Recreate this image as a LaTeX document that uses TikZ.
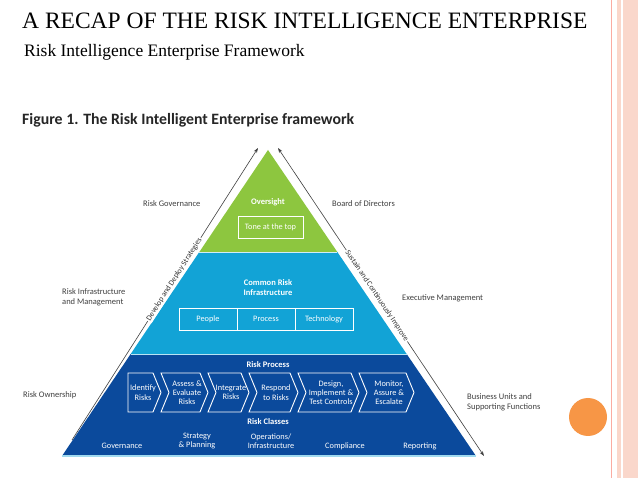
\documentclass[tikz,border=0pt]{standalone}
\usepackage{fontspec}
\setmainfont{Liberation Serif}
\newfontfamily\dg{Carlito}
\usetikzlibrary{calc,arrows.meta}
\definecolor{pgreen}{HTML}{8DC63F}
\definecolor{pblue}{HTML}{12A3D6}
\definecolor{pdark}{HTML}{0B4A9C}
\definecolor{porange}{HTML}{F79646}
\definecolor{ppink}{HTML}{FAD7CB}
\tikzset{
 lbl/.style={font=\dg\fontsize{8.5}{10}\selectfont, text=black!75, align=left, inner sep=0},
 wt/.style={font=\dg\fontsize{8.3}{9.3}\selectfont, text=white, align=center, inner sep=0},
 wb/.style={font=\dg\bfseries\fontsize{8.5}{10}\selectfont, text=white, align=center, inner sep=0},
 wbox/.style={draw=white, line width=0.9pt},
 chev/.style={draw=white, line width=0.9pt, fill=pdark},
 side/.style={draw=black!75, line width=0.6pt},
 slab/.style={font=\dg\fontsize{7.8}{8}\selectfont, text=black!80, fill=white, inner sep=1pt, sloped},
}
\begin{document}
\begin{tikzpicture}[x=1pt,y=-1pt]
\useasboundingbox (0,0) rectangle (638,478);
\fill[white] (0,0) rectangle (638,478);
% right decoration
\fill[ppink] (617,0) rectangle (638,478);
\draw[ppink!80!red, line width=0.6pt] (611,0) -- (611,478);
\draw[white, line width=1.2pt] (622,0) -- (622,478);
\fill[porange] (588,417) circle (19);
% titles
\node[anchor=base west, inner sep=0, font=\fontsize{23.5}{25}\selectfont] (t1) at (22,29) {A RECAP OF THE RISK INTELLIGENCE ENTERPRISE};
\node[anchor=base west, inner sep=0, font=\fontsize{17.5}{19}\selectfont] (t2) at (24,57) {Risk Intelligence Enterprise Framework};
\node[anchor=base west, inner sep=0, font=\dg\bfseries\fontsize{15.8}{17}\selectfont, text=black!85] (t3) at (22,125) {Figure 1. The Risk Intelligent Enterprise framework};
% pyramid
\coordinate (A) at (268,150);
\coordinate (L) at (62,456);
\coordinate (R) at (476,456);
\coordinate (g1) at ($(A)!0.3333!(L)$);
\coordinate (g2) at ($(A)!0.3333!(R)$);
\coordinate (b1) at ($(A)!0.6667!(L)$);
\coordinate (b2) at ($(A)!0.6667!(R)$);
\fill[pdark] (b1) -- (b2) -- (R) -- (L) -- cycle;
\fill[pblue] (g1) -- (g2) -- (b2) -- (b1) -- cycle;
\fill[pgreen] (A) -- (g2) -- (g1) -- cycle;
\draw[white!80!pblue, line width=0.8pt] (g1) -- (g2);
\draw[white!70!pblue, line width=1pt] (b1) -- (b2);
\draw[pblue!40, line width=1.5pt] (L) -- (R);
% green tier
\node[wb] (ov) at (268,202) {Oversight};
\draw[wbox] (238,216) rectangle (303,238);
\node[wt] (tone) at (270.5,227) {Tone at the top};
% blue tier
\node[wb] (cri) at (268,288) {Common Risk\\Infrastructure};
\draw[wbox] (179,308) rectangle (353,330);
\draw[wbox] (237,308) -- (237,330) (295,308) -- (295,330);
\node[wt] (pe) at (208,319) {People};
\node[wt] (pr) at (266,319) {Process};
\node[wt] (te) at (324,319) {Technology};
% dark tier
\node[wb] (rp) at (268,365) {Risk Process};
\draw[chev] (128,373) -- (153,373) -- (161,392.5) -- (153,412) -- (128,412) -- cycle;
\draw[chev] (161,373) -- (200,373) -- (208,392.5) -- (200,412) -- (161,412) -- (169,392.5) -- cycle;
\draw[chev] (208,373) -- (241,373) -- (249,392.5) -- (241,412) -- (208,412) -- (216,392.5) -- cycle;
\draw[chev] (249,373) -- (290,373) -- (298,392.5) -- (290,412) -- (249,412) -- (257,392.5) -- cycle;
\draw[chev] (298,373) -- (351,373) -- (359,392.5) -- (351,412) -- (298,412) -- (306,392.5) -- cycle;
\draw[chev] (359,373) -- (406,373) -- (414,392.5) -- (406,412) -- (359,412) -- (367,392.5) -- cycle;
\node[wt] (c1) at (143,392.5) {Identify\\Risks};
\node[wt] (c2) at (187,392.5) {Assess \&\\Evaluate\\Risks};
\node[wt] (c3) at (231,392.5) {Integrate\\Risks};
\node[wt] (c4) at (276,392.5) {Respond\\to Risks};
\node[wt] (c5) at (331,392.5) {Design,\\Implement \&\\Test Controls};
\node[wt] (c6) at (389,392.5) {Monitor,\\Assure \&\\Escalate};
\node[wb] (rc) at (268,422) {Risk Classes};
\node[wt] (k1) at (122,446) {Governance};
\node[wt] (k2) at (197,441) {Strategy\\\& Planning};
\node[wt] (k3) at (271,441) {Operations/\\Infrastructure};
\node[wt] (k4) at (345,446) {Compliance};
\node[wt] (k5) at (420,446) {Reporting};
% side arrows
\coordinate (la) at (258,148);
\coordinate (lb) at (72,440);
\coordinate (ra) at (278,148);
\coordinate (rb) at (484,456);
\draw[side, -{Stealth[length=5pt,width=3.5pt]}] (lb) -- node[slab, pos=0.55] {Develop and Deploy Strategies} (la);
\draw[side, {Stealth[length=5pt,width=3.5pt]}-{Stealth[length=5pt,width=3.5pt]}] (ra) -- node[slab, pos=0.48] {Sustain and Continuously Improve} (rb);
% side labels
\node[lbl, anchor=west] (l1) at (143,204) {Risk Governance};
\node[lbl, anchor=west] (l2) at (332,204) {Board of Directors};
\node[lbl, anchor=west] (l3) at (62,297) {Risk Infrastructure\\and Management};
\node[lbl, anchor=west] (l4) at (402,298) {Executive Management};
\node[lbl, anchor=west] (l5) at (23,395) {Risk Ownership};
\node[lbl, anchor=west] (l6) at (467,402) {Business Units and\\Supporting Functions};
\end{tikzpicture}
\end{document}
